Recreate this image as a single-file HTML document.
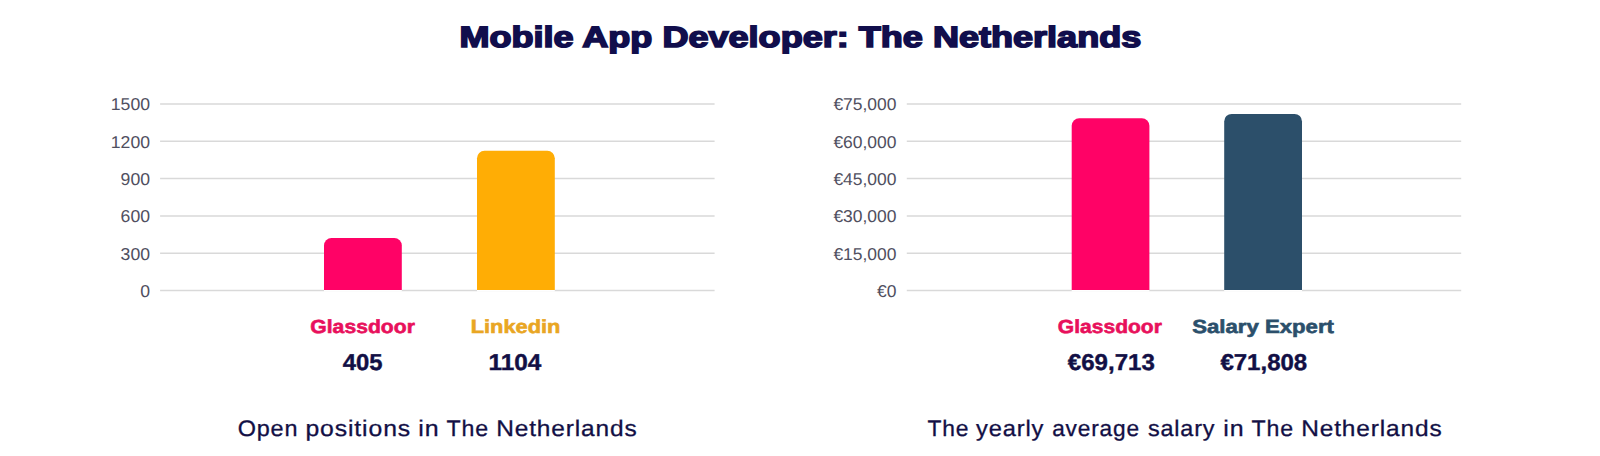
<!DOCTYPE html>
<html lang="en">
<head>
<meta charset="utf-8">
<title>Mobile App Developer: The Netherlands</title>
<style>
html,body{margin:0;padding:0;background:#fff;}
body{text-rendering:geometricPrecision;width:1600px;height:456px;position:relative;overflow:hidden;font-family:"Liberation Sans",sans-serif;}
#gfx{position:absolute;left:0;top:0;display:block;}
.t{position:absolute;left:0;top:0;white-space:nowrap;line-height:1;margin:0;}
.c{transform-origin:50% 0;}
#title{font-size:29.3px;font-weight:700;color:#110e4c;-webkit-text-stroke:1.6px #110e4c;}
.ax{font-size:17.2px;color:#504f60;transform-origin:100% 0;}
.lab{font-size:19px;font-weight:700;-webkit-text-stroke-width:0.6px;}
.val{font-size:22.9px;font-weight:700;color:#120f45;-webkit-text-stroke:0.4px #120f45;}
.capline{margin:0;}
.cap{font-size:22.5px;color:#120f45;letter-spacing:0.8px;-webkit-text-stroke:0.3px #120f45;}
</style>
</head>
<body>
<svg id="gfx" width="1600" height="456" viewBox="0 0 1600 456">
<g stroke="#d9d9d9" stroke-width="1.5" fill="none">
<path d="M160.1 104.0H714.6"/>
<path d="M160.1 141.3H714.6"/>
<path d="M160.1 178.6H714.6"/>
<path d="M160.1 215.9H714.6"/>
<path d="M160.1 253.2H714.6"/>
<path d="M160.1 290.5H714.6"/>
<path d="M906.8 104.0H1461.2"/>
<path d="M906.8 141.3H1461.2"/>
<path d="M906.8 178.6H1461.2"/>
<path d="M906.8 215.9H1461.2"/>
<path d="M906.8 253.2H1461.2"/>
<path d="M906.8 290.5H1461.2"/>
</g>
<path d="M324.0 289.6H401.8V291.5H324.0Z" fill="#fff"/><path d="M324.0 290.0V245.5A7.5 7.5 0 0 1 331.5 238.0H394.3A7.5 7.5 0 0 1 401.8 245.5V290.0Z" fill="#ff0266"/>
<path d="M477.0 289.6H554.8V291.5H477.0Z" fill="#fff"/><path d="M477.0 290.0V158.3A7.5 7.5 0 0 1 484.5 150.8H547.3A7.5 7.5 0 0 1 554.8 158.3V290.0Z" fill="#ffad05"/>
<path d="M1071.7 289.6H1149.4V291.5H1071.7Z" fill="#fff"/><path d="M1071.7 290.0V125.75A7.5 7.5 0 0 1 1079.2 118.25H1141.9A7.5 7.5 0 0 1 1149.4 125.75V290.0Z" fill="#ff0266"/>
<path d="M1224.2 289.6H1302.0V291.5H1224.2Z" fill="#fff"/><path d="M1224.2 290.0V121.4A7.5 7.5 0 0 1 1231.7 113.9H1294.5A7.5 7.5 0 0 1 1302.0 121.4V290.0Z" fill="#2c4f6a"/>
</svg>
<span class="t ax" id="l0" style="transform:translate(calc(150.00px - 100%),96px) scaleX(1.0256)">1500</span>
<span class="t ax" id="l1" style="transform:translate(calc(150.00px - 100%),134px) scaleX(1.0256)">1200</span>
<span class="t ax" id="l2" style="transform:translate(calc(150.00px - 100%),171px) scaleX(1.0256)">900</span>
<span class="t ax" id="l3" style="transform:translate(calc(150.00px - 100%),208px) scaleX(1.0256)">600</span>
<span class="t ax" id="l4" style="transform:translate(calc(150.00px - 100%),246px) scaleX(1.0256)">300</span>
<span class="t ax" id="l5" style="transform:translate(calc(150.00px - 100%),283px) scaleX(1.0256)">0</span>
<span class="t ax" id="r0" style="transform:translate(calc(896.50px - 100%),96px) scaleX(1.0156)">€75,000</span>
<span class="t ax" id="r1" style="transform:translate(calc(896.50px - 100%),134px) scaleX(1.0156)">€60,000</span>
<span class="t ax" id="r2" style="transform:translate(calc(896.50px - 100%),171px) scaleX(1.0156)">€45,000</span>
<span class="t ax" id="r3" style="transform:translate(calc(896.50px - 100%),208px) scaleX(1.0156)">€30,000</span>
<span class="t ax" id="r4" style="transform:translate(calc(896.50px - 100%),246px) scaleX(1.0156)">€15,000</span>
<span class="t ax" id="r5" style="transform:translate(calc(896.50px - 100%),283px) scaleX(1.0156)">€0</span>
<h1 class="t c " id="title" style="transform:translate(calc(800.35px - 50%),23px) scaleX(1.2307);">Mobile App Developer: The Netherlands</h1>
<span class="t c lab" id="g1" style="transform:translate(calc(362.60px - 50%),318px) scaleX(1.1131);color:#e8105c;-webkit-text-stroke-color:#e8105c">Glassdoor</span>
<span class="t c lab" id="li" style="transform:translate(calc(515.55px - 50%),318px) scaleX(1.1470);color:#e9a623;-webkit-text-stroke-color:#e9a623">Linkedin</span>
<span class="t c val" id="v1" style="transform:translate(calc(362.60px - 50%),351px) scaleX(1.0396);">405</span>
<span class="t c val" id="v2" style="transform:translate(calc(515.00px - 50%),351px) scaleX(1.0621);">1104</span>
<span class="t c lab" id="g2" style="transform:translate(calc(1109.85px - 50%),318px) scaleX(1.1080);color:#e8105c;-webkit-text-stroke-color:#e8105c">Glassdoor</span>
<span class="t c lab" id="se" style="transform:translate(calc(1263.05px - 50%),318px) scaleX(1.1667);color:#2b4f6b;-webkit-text-stroke-color:#2b4f6b">Salary Expert</span>
<span class="t c val" id="v3" style="transform:translate(calc(1111.30px - 50%),351px) scaleX(1.0505);">€69,713</span>
<span class="t c val" id="v4" style="transform:translate(calc(1263.80px - 50%),351px) scaleX(1.0480);">€71,808</span>
<p class="capline" id="c1">
<span class="t c cap" id="c1w0" style="transform:translate(calc(268.00px - 50%),418px) scaleX(1.0411);">Open</span>
<span class="t c cap" id="c1w1" style="transform:translate(calc(358.25px - 50%),418px) scaleX(1.1001);">positions</span>
<span class="t c cap" id="c1w2" style="transform:translate(calc(428.90px - 50%),418px) scaleX(1.1104);">in</span>
<span class="t c cap" id="c1w3" style="transform:translate(calc(467.70px - 50%),418px) scaleX(1.0291);">The</span>
<span class="t c cap" id="c1w4" style="transform:translate(calc(566.85px - 50%),418px) scaleX(1.0866);">Netherlands</span>
</p>
<p class="capline" id="c2">
<span class="t c cap" id="c2w0" style="transform:translate(calc(948.35px - 50%),418px) scaleX(1.0135);">The</span>
<span class="t c cap" id="c2w1" style="transform:translate(calc(1010.15px - 50%),418px) scaleX(1.0513);">yearly</span>
<span class="t c cap" id="c2w2" style="transform:translate(calc(1096.00px - 50%),418px) scaleX(1.0082);">average</span>
<span class="t c cap" id="c2w3" style="transform:translate(calc(1181.65px - 50%),418px) scaleX(1.0401);">salary</span>
<span class="t c cap" id="c2w4" style="transform:translate(calc(1233.90px - 50%),418px) scaleX(1.1104);">in</span>
<span class="t c cap" id="c2w5" style="transform:translate(calc(1272.70px - 50%),418px) scaleX(1.0291);">The</span>
<span class="t c cap" id="c2w6" style="transform:translate(calc(1371.85px - 50%),418px) scaleX(1.0866);">Netherlands</span>
</p>
</body>
</html>
